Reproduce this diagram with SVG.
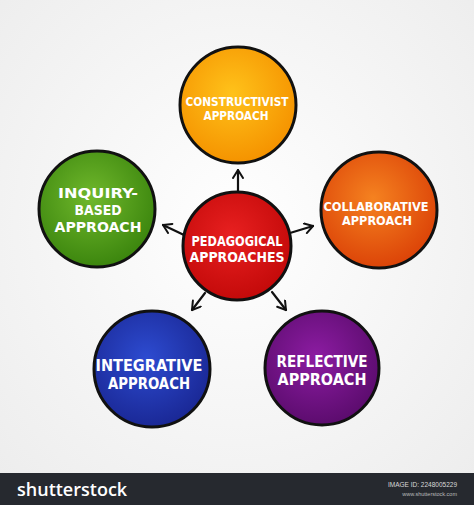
<svg xmlns="http://www.w3.org/2000/svg" width="474" height="505" viewBox="0 0 474 505">
<defs>
<radialGradient id="bg" cx="50%" cy="45%" r="70%"><stop offset="0" stop-color="#ffffff"/><stop offset="1" stop-color="#ededed"/></radialGradient>
<radialGradient id="gOrange" cx="45%" cy="40%" r="60%"><stop offset="0" stop-color="#FFC21A"/><stop offset="1" stop-color="#F59300"/></radialGradient>
<radialGradient id="gRed" cx="45%" cy="40%" r="60%"><stop offset="0" stop-color="#E82020"/><stop offset="1" stop-color="#C40A0A"/></radialGradient>
<radialGradient id="gCollab" cx="45%" cy="40%" r="60%"><stop offset="0" stop-color="#F58220"/><stop offset="1" stop-color="#DC4408"/></radialGradient>
<radialGradient id="gGreen" cx="45%" cy="40%" r="60%"><stop offset="0" stop-color="#70B82C"/><stop offset="1" stop-color="#3C860E"/></radialGradient>
<radialGradient id="gBlue" cx="45%" cy="40%" r="60%"><stop offset="0" stop-color="#2D4BD0"/><stop offset="1" stop-color="#1A2896"/></radialGradient>
<radialGradient id="gPurple" cx="45%" cy="40%" r="60%"><stop offset="0" stop-color="#8C1CA2"/><stop offset="1" stop-color="#5C0C6E"/></radialGradient>
<marker id="arr" viewBox="0 0 12 12" refX="10" refY="6" markerWidth="12" markerHeight="12" markerUnits="userSpaceOnUse" orient="auto">
<path d="M2,1 L10,6 L2,11" fill="none" stroke="#111" stroke-width="2" stroke-linecap="round" stroke-linejoin="round"/>
</marker>
</defs>
<style>
.node{stroke:#111;stroke-width:3}
.lbl{font-family:"DejaVu Sans","Liberation Sans",sans-serif;font-weight:bold;fill:#ffffff;text-anchor:middle}
.conn{stroke:#111;stroke-width:2.2;fill:none;stroke-linecap:round}
</style>
<rect x="0" y="0" width="474" height="505" fill="url(#bg)"/>
<g id="connectors">
<line class="conn" x1="238" y1="193" x2="238" y2="170" marker-end="url(#arr)"/>
<line class="conn" x1="184" y1="235" x2="163" y2="225" marker-end="url(#arr)"/>
<line class="conn" x1="290" y1="233" x2="313" y2="226" marker-end="url(#arr)"/>
<line class="conn" x1="205" y1="293" x2="192" y2="310" marker-end="url(#arr)"/>
<line class="conn" x1="272" y1="292" x2="286" y2="310" marker-end="url(#arr)"/>
</g>
<g id="constructivist">
<circle class="node" cx="238" cy="105" r="58" fill="url(#gOrange)"/>
<text class="lbl" x="237" y="106" font-size="12" textLength="103" lengthAdjust="spacingAndGlyphs">CONSTRUCTIVIST</text>
<text class="lbl" x="236" y="120" font-size="12" textLength="65" lengthAdjust="spacingAndGlyphs">APPROACH</text>
</g>
<g id="pedagogical">
<circle class="node" cx="237" cy="246" r="54" fill="url(#gRed)"/>
<text class="lbl" x="237" y="246" font-size="13.5" textLength="91" lengthAdjust="spacingAndGlyphs">PEDAGOGICAL</text>
<text class="lbl" x="237" y="262" font-size="13.5" textLength="95" lengthAdjust="spacingAndGlyphs">APPROACHES</text>
</g>
<g id="inquiry">
<circle class="node" cx="97" cy="209" r="58" fill="url(#gGreen)"/>
<text class="lbl" x="98" y="198" font-size="13.5" textLength="80" lengthAdjust="spacingAndGlyphs">INQUIRY-</text>
<text class="lbl" x="98" y="215" font-size="13.5" textLength="47" lengthAdjust="spacingAndGlyphs">BASED</text>
<text class="lbl" x="98" y="232" font-size="13.5" textLength="87" lengthAdjust="spacingAndGlyphs">APPROACH</text>
</g>
<g id="collaborative">
<circle class="node" cx="379" cy="210" r="58" fill="url(#gCollab)"/>
<text class="lbl" x="376" y="211" font-size="12" textLength="105" lengthAdjust="spacingAndGlyphs">COLLABORATIVE</text>
<text class="lbl" x="377" y="225" font-size="12" textLength="70" lengthAdjust="spacingAndGlyphs">APPROACH</text>
</g>
<g id="integrative">
<circle class="node" cx="152" cy="369" r="58" fill="url(#gBlue)"/>
<text class="lbl" x="149" y="371" font-size="15" textLength="107" lengthAdjust="spacingAndGlyphs">INTEGRATIVE</text>
<text class="lbl" x="149" y="389" font-size="15" textLength="82" lengthAdjust="spacingAndGlyphs">APPROACH</text>
</g>
<g id="reflective">
<circle class="node" cx="322" cy="368" r="57" fill="url(#gPurple)"/>
<text class="lbl" x="322" y="367" font-size="15" textLength="91" lengthAdjust="spacingAndGlyphs">REFLECTIVE</text>
<text class="lbl" x="322" y="385" font-size="15" textLength="89" lengthAdjust="spacingAndGlyphs">APPROACH</text>
</g>
<g id="footer">
<rect x="0" y="473" width="474" height="32" fill="#26292f"/>
<text x="17" y="496" font-family="'Open Sans','Liberation Sans',sans-serif" font-size="18" font-weight="600" fill="#ffffff">shutterstock</text>
<text x="457" y="487" font-family="'Liberation Sans',sans-serif" font-size="6.5" fill="#d8d8d8" text-anchor="end">IMAGE ID: 2248005229</text>
<text x="457" y="496" font-family="'Liberation Sans',sans-serif" font-size="5.5" fill="#bbbbbb" text-anchor="end">www.shutterstock.com</text>
</g>
</svg>
